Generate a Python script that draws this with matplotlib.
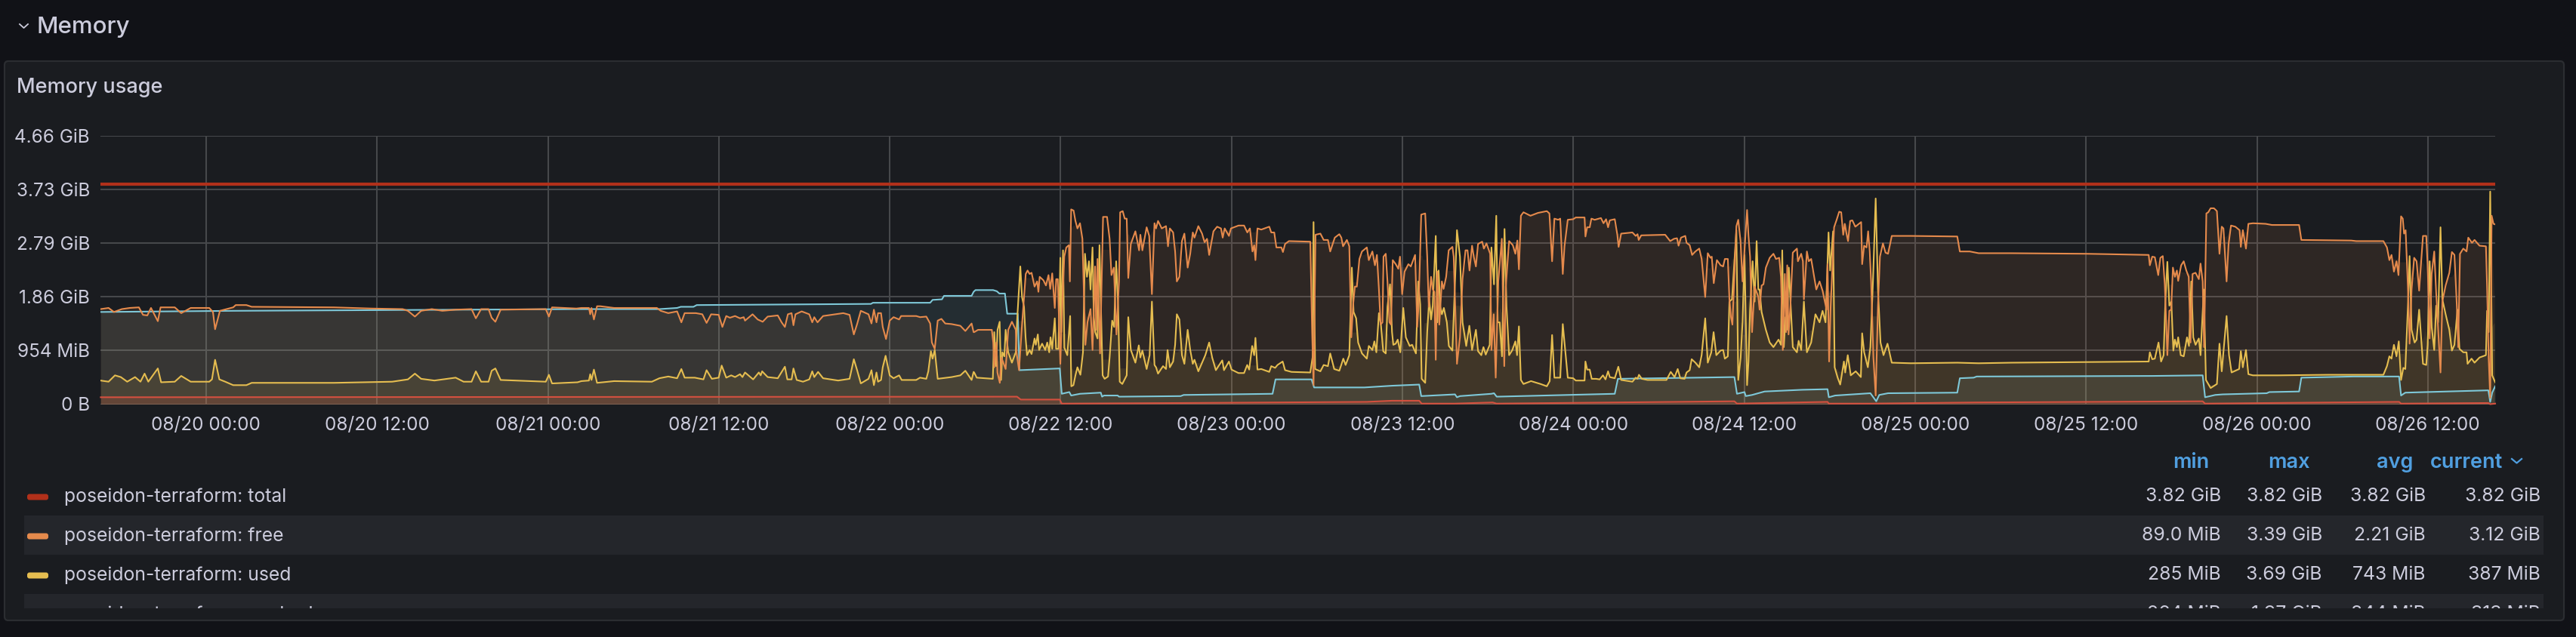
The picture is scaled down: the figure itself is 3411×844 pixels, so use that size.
import matplotlib
matplotlib.use("Agg")
import numpy as np
import pandas as pd
import matplotlib.pyplot as plt
from matplotlib.patches import FancyBboxPatch, Rectangle

# hours since 08/20 00:00, values in GiB
t_start, t_end = -7.42, 160.73

free_hours = [
    -7.40, -6.85, -6.47, -5.92, -5.36, -4.72, -4.43, -4.13, -3.87, -3.39,
    -3.20, -2.20, -1.75, -1.08, 0.22, 0.48, 0.63, 0.97, 1.90, 2.08,
    2.83, 3.20, 8.97, 11.57, 13.80, 14.17, 14.66, 15.10, 15.85, 16.59,
    17.52, 18.64, 18.94, 19.31, 19.83, 20.05, 20.31, 20.68, 23.85, 24.07,
    24.29, 26.00,
    26.35, 26.88, 26.97, 27.06, 27.23, 27.45, 27.68, 28.65, 31.65, 31.92,
    32.45, 33.07, 33.37, 33.60, 34.39, 34.84, 35.14, 35.46, 35.99, 36.25,
    36.52, 36.78, 37.14, 37.49, 37.75, 37.84, 38.37, 38.73, 39.08, 39.43,
    40.14, 40.41, 40.64, 40.85, 41.11, 41.24, 41.38, 41.82, 42.35, 42.56,
    42.70, 42.93, 43.32, 44.74, 45.18, 45.48, 45.71, 45.97, 46.51, 46.72,
    46.89, 47.07, 47.18, 47.39, 47.51, 47.74, 48.00, 48.27, 48.66, 48.80,
    49.86, 50.13, 50.57, 50.84, 50.96, 51.16, 51.37, 51.63, 51.90, 52.34,
    52.96, 53.31, 53.75, 53.89,
    53.93, 54.20, 55.17, 55.27, 55.34, 55.49, 55.56, 55.73, 55.84, 56.14,
    56.32, 56.58, 56.85, 56.90, 57.08, 57.29, 57.55, 57.68, 57.82, 57.96,
    58.17, 58.35, 58.44, 58.53, 58.79, 58.97, 59.15, 59.27, 59.41, 59.59,
    59.69, 59.80, 59.98, 60.12, 60.26, 60.40, 60.58, 60.65, 60.74, 60.91,
    61.04, 61.18, 61.36, 61.53, 61.67, 61.74, 61.89, 62.10, 62.24, 62.42,
    62.50, 62.59, 62.77, 62.98, 63.26, 63.44, 63.57, 63.74, 63.92, 64.10,
    64.18, 64.36, 64.50, 64.64, 64.75, 64.93, 65.25, 65.51, 65.60, 65.74,
    66.04, 66.22, 66.41, 66.59, 66.70, 66.84, 67.10, 67.40, 67.54, 67.67,
    67.90, 68.04, 68.16, 68.34, 68.52, 68.69, 68.92, 69.10, 69.28, 69.40,
    69.67, 69.93, 70.11, 70.28, 70.43, 70.73, 70.99, 71.26, 71.38, 71.52,
    71.82, 71.96, 72.49, 72.88, 73.11, 73.29, 73.47, 73.59, 73.68, 73.82,
    74.09, 74.65, 74.79, 75.00, 75.15, 75.50, 75.61, 75.76, 76.03, 77.53,
    77.66, 77.76, 77.90, 78.24, 78.47, 78.77, 78.93, 79.25, 79.57, 79.71,
    79.83, 80.10, 80.27, 80.41, 80.54, 80.66, 80.80, 80.98, 81.16,
    81.50, 81.64, 81.89, 82.07, 82.21, 82.35, 82.47, 82.60, 82.67, 82.83,
    82.95, 83.09, 83.20, 83.32, 83.53, 83.71, 83.83, 83.98, 84.15, 84.42,
    84.59, 84.89, 85.04, 85.14, 85.32, 85.60, 85.74, 85.85, 86.01, 86.13,
    86.24, 86.34, 86.45, 86.59, 86.77, 86.89, 87.07, 87.25, 87.51, 87.60,
    87.83, 88.04, 88.22, 88.43, 88.57, 88.71, 88.89, 89.01, 89.16, 89.31,
    89.60, 89.72, 89.90, 90.16, 90.25, 90.41, 90.55, 90.73, 90.98, 91.15,
    91.26, 91.49, 91.75, 91.93, 92.07, 92.18, 92.32, 92.50, 92.99, 93.52,
    94.14, 94.32, 94.51, 94.67, 94.94, 95.08, 95.26, 95.38, 95.61, 95.99,
    96.17, 96.79, 96.85, 96.97, 97.15, 97.27, 97.50, 97.94, 98.12, 98.30,
    98.44, 98.56, 98.91, 99.09, 99.18, 99.36, 100.15, 100.38, 100.51, 100.59,
    100.77, 102.45, 102.80, 103.07, 103.28, 103.39, 103.56, 103.86, 103.95, 104.17,
    104.34, 104.57, 104.84, 105.01, 105.26, 105.44, 105.63, 105.72, 105.86, 106.08,
    106.34, 106.52, 106.64, 106.85, 106.96, 107.07, 107.17, 107.45, 107.58, 107.74,
    107.88, 108.20, 108.30, 108.41, 108.55, 108.73, 108.99,
    109.08, 109.22, 109.35, 109.52, 109.79, 110.05, 110.23, 110.46, 110.58, 110.71,
    110.85, 110.94, 111.02, 111.11, 111.24, 111.41, 111.70, 111.77, 112.00, 112.12,
    112.19, 112.40, 112.53, 112.70, 113.06, 113.29, 113.50, 113.78, 113.85, 113.96,
    114.07, 114.31, 114.49, 114.67, 114.81, 114.95, 115.06, 115.18, 115.29, 115.44,
    115.59, 115.80, 116.06, 116.21, 116.28, 116.42, 116.59, 116.70, 116.81, 116.91,
    117.07, 117.23, 117.39, 117.53, 117.74, 117.92, 118.10, 118.36, 119.69, 122.96,
    123.14, 123.84, 124.46, 126.76, 132.06, 136.40, 136.48, 136.63,
    136.65, 136.83, 137.07, 137.22, 137.39, 137.53, 137.71, 137.85, 137.98, 138.10,
    138.24, 138.38, 138.47, 138.68, 138.86, 139.04, 139.21, 139.34, 139.48, 139.69,
    139.92, 140.04, 140.19, 140.29, 140.45, 140.58, 140.75, 140.98, 141.19, 141.37,
    141.53, 141.65, 141.87, 142.01, 142.18, 142.48, 142.78, 142.87, 143.01, 143.23,
    143.40, 143.72, 144.61, 145.05, 146.96, 147.12, 150.62, 150.97, 152.88, 153.13,
    153.30, 153.45, 153.62, 153.80, 153.94, 154.12, 154.24, 154.33, 154.44, 154.60,
    154.72, 154.86, 155.04, 155.21, 155.39, 155.66, 155.89, 155.99, 156.13, 156.27,
    156.45, 156.59, 156.89, 157.02, 157.25, 157.51, 157.69, 157.87, 158.04, 158.13,
    158.26, 158.49, 158.72, 158.84, 159.10, 159.28, 159.63, 160.08, 160.16, 160.27,
    160.38, 160.48, 160.61, 160.73,
]
free_gib = [
    1.65, 1.67, 1.60, 1.65, 1.67, 1.68, 1.55, 1.54, 1.67, 1.44,
    1.68, 1.68, 1.58, 1.67, 1.67, 1.60, 1.30, 1.62, 1.68, 1.72,
    1.72, 1.69, 1.68, 1.66, 1.65, 1.62, 1.52, 1.62, 1.65, 1.62,
    1.64, 1.65, 1.49, 1.65, 1.65, 1.50, 1.43, 1.64, 1.65, 1.52,
    1.68, 1.66,
    1.67, 1.67, 1.56, 1.67, 1.47, 1.70, 1.70, 1.67, 1.67, 1.62,
    1.58, 1.61, 1.42, 1.58, 1.58, 1.56, 1.41, 1.56, 1.55, 1.34,
    1.53, 1.50, 1.53, 1.49, 1.51, 1.45, 1.56, 1.47, 1.43, 1.52,
    1.54, 1.42, 1.34, 1.56, 1.58, 1.37, 1.56, 1.61, 1.56, 1.42,
    1.51, 1.42, 1.53, 1.58, 1.55, 1.21, 1.39, 1.62, 1.56, 1.40,
    1.64, 1.42, 1.58, 1.58, 1.34, 1.13, 1.45, 1.51, 1.47, 1.53,
    1.53, 1.51, 1.52, 1.40, 1.07, 0.96, 1.45, 1.48, 1.40, 1.39,
    1.36, 1.27, 1.40, 1.25,
    1.25, 1.29, 1.29, 1.07, 0.64, 1.07, 0.55, 0.37, 0.81, 0.61,
    1.29, 1.43, 1.29, 0.90, 0.59, 1.38, 2.26, 2.32, 2.26, 2.28,
    2.04, 2.13, 1.95, 2.21, 2.15, 2.06, 2.24, 2.00, 2.27, 1.67,
    2.17, 2.17, 0.70, 1.78, 2.56, 2.72, 2.76, 2.13, 3.38, 3.36,
    3.18, 3.05, 3.14, 2.87, 1.60, 1.03, 1.43, 1.65, 0.94, 2.39,
    1.29, 2.52, 0.88, 3.25, 3.25, 2.87, 2.24, 2.37, 1.21, 2.13,
    3.33, 3.35, 3.22, 3.22, 2.19, 2.78, 3.00, 2.67, 2.94, 2.67,
    3.07, 2.92, 1.91, 3.14, 3.05, 3.18, 3.05, 3.09, 2.74, 3.05,
    2.98, 2.65, 2.13, 2.21, 2.83, 2.96, 2.37, 2.61, 2.98, 2.89,
    3.09, 2.96, 2.81, 2.87, 2.59, 3.00, 3.08, 3.05, 2.89, 3.05,
    2.92, 3.05, 3.10, 3.10, 2.98, 3.05, 2.65, 2.76, 2.50, 3.05,
    3.03, 3.08, 2.98, 2.98, 2.72, 2.72, 2.64, 2.78, 2.83, 2.82,
    1.25, 0.33, 2.94, 2.96, 2.85, 2.85, 2.65, 2.89, 2.95, 2.89,
    2.74, 2.85, 2.74, 1.16, 1.73, 2.04, 2.04, 2.52, 2.65,
    2.72, 2.50, 2.65, 2.41, 2.59, 1.99, 1.38, 1.42, 2.56, 2.61,
    2.13, 1.42, 1.38, 2.50, 2.43, 2.35, 2.56, 1.91, 2.30, 2.43,
    2.39, 2.59, 1.34, 1.73, 3.29, 3.31, 2.56, 1.69, 2.21, 1.99,
    1.95, 0.77, 2.30, 1.38, 2.13, 2.00, 2.21, 2.67, 2.73, 2.56,
    0.70, 1.16, 2.17, 2.67, 2.67, 2.32, 2.75, 2.56, 2.39, 2.78,
    2.82, 2.70, 2.79, 2.61, 0.94, 1.56, 0.46, 2.13, 2.87, 0.66,
    2.04, 2.83, 2.76, 2.61, 2.84, 2.34, 3.27, 3.33, 3.27, 3.32,
    3.35, 3.31, 2.48, 3.22, 3.20, 3.22, 2.26, 2.74, 3.20, 3.21,
    3.24, 3.24, 2.91, 3.07, 3.07, 3.22, 3.20, 3.23, 3.14, 3.21,
    3.07, 3.19, 3.21, 2.94, 2.73, 2.96, 2.98, 2.92, 2.95, 2.85,
    2.93, 2.94, 2.83, 2.87, 2.88, 2.75, 2.89, 2.92, 2.80, 2.76,
    2.59, 2.65, 2.70, 2.52, 1.86, 2.62, 2.54, 2.56, 2.10, 2.50,
    2.41, 2.39, 2.52, 2.52, 1.82, 1.51, 1.38, 3.09, 3.20, 2.83,
    2.13, 3.37, 2.92, 2.56, 1.25, 2.04, 1.86,
    1.64, 2.06, 2.08, 2.37, 2.54, 2.61, 2.52, 2.54, 2.21, 0.94,
    2.26, 1.25, 2.41, 1.21, 1.69, 2.63, 2.70, 2.48, 2.61, 2.48,
    1.82, 2.65, 2.48, 2.52, 1.99, 2.13, 1.97, 1.64, 2.43, 0.74,
    1.69, 3.07, 3.20, 3.34, 3.33, 2.94, 3.13, 2.96, 2.83, 3.18,
    3.19, 3.08, 3.13, 3.16, 2.43, 2.75, 2.72, 3.00, 2.65, 2.13,
    0.81, 0.15, 1.69, 2.56, 2.79, 2.63, 2.61, 2.92, 2.92, 2.91,
    2.65, 2.65, 2.62, 2.62, 2.61, 2.59, 2.41, 2.54,
    2.56, 2.55, 2.24, 2.54, 2.57, 2.08, 0.85, 1.62, 1.64, 2.37,
    2.21, 2.32, 2.14, 2.41, 2.48, 2.32, 2.21, 1.07, 2.26, 2.28,
    2.17, 2.44, 2.13, 0.99, 3.31, 3.33, 3.40, 3.40, 3.35, 2.61,
    3.08, 3.05, 2.13, 2.78, 3.10, 3.08, 3.02, 2.73, 3.02, 2.70,
    3.13, 3.14, 3.13, 3.11, 3.11, 2.85, 2.84, 2.83, 2.83, 2.72,
    2.50, 2.59, 2.30, 2.48, 2.24, 3.26, 3.22, 2.96, 3.02, 2.04,
    1.05, 1.99, 2.54, 2.48, 1.97, 2.92, 2.92, 2.39, 1.14, 2.26,
    2.65, 1.91, 0.55, 1.78, 2.06, 2.28, 2.64, 2.59, 1.69, 0.99,
    2.61, 2.70, 2.65, 2.89, 2.80, 2.85, 2.75, 2.74, 2.04, 0.81,
    0.11, 3.27, 3.13, 3.12,
]

used_hours = [
    -7.40, -6.85, -6.40, -5.99, -5.54, -4.99, -4.61, -4.32, -4.06, -3.39,
    -3.16, -2.20, -1.75, -1.08, 0.22, 0.41, 0.63, 0.93, 1.34, 1.90,
    2.83, 3.20, 8.97, 13.06, 14.17, 14.66, 15.10, 16.03, 17.52, 18.08,
    18.64, 18.94, 19.31, 19.83, 20.05, 20.31, 20.68, 23.85, 24.07, 24.29,
    26.08,
    26.35, 26.88, 26.97, 27.06, 27.23, 27.45, 28.65, 31.30, 31.83, 32.45,
    33.07, 33.37, 33.60, 34.31, 34.92, 35.14, 35.51, 35.99, 36.20, 36.52,
    36.87, 37.14, 37.49, 37.66, 37.84, 38.41, 38.81, 38.94, 39.04, 39.43,
    40.14, 40.64, 40.81, 41.11, 41.24, 41.47, 41.91, 42.35, 42.56, 42.70,
    42.97, 43.32, 44.38, 45.18, 45.48, 45.71, 45.97, 46.51, 46.72, 46.89,
    47.07, 47.18, 47.39, 47.51, 47.71, 48.00, 48.27, 48.66, 48.84, 49.86,
    50.13, 50.57, 50.71, 50.89, 51.01, 51.16, 51.37, 52.34, 52.96, 53.31,
    53.75, 53.89,
    53.93, 54.11, 55.17, 55.24, 55.34, 55.47, 55.57, 55.72, 55.82, 55.91,
    56.05, 56.14, 56.32, 56.58, 56.85, 56.94, 57.17, 57.29, 57.43, 57.54,
    57.64, 57.82, 57.96, 58.17, 58.26, 58.40, 58.49, 58.70, 58.92, 59.06,
    59.20, 59.29, 59.41, 59.59, 59.68, 59.85, 59.98, 60.05, 60.17, 60.26,
    60.47, 60.67, 60.75, 60.90, 61.04, 61.18, 61.39, 61.57, 61.71, 61.85,
    61.99, 62.10, 62.24, 62.33, 62.43, 62.59, 62.73, 62.82, 62.95, 63.09,
    63.33, 63.44, 63.62, 63.76, 63.90, 64.04, 64.15, 64.33, 64.64, 64.75,
    64.93, 65.25, 65.49, 65.60, 65.74, 66.04, 66.25, 66.41, 66.59, 66.70,
    66.84, 67.19, 67.40, 67.51, 67.67, 67.90, 68.04, 68.16, 68.34, 68.52,
    68.69, 68.92, 69.10, 69.28, 69.40, 69.67, 69.93, 70.16, 70.43, 70.64,
    70.90, 71.35, 71.47, 71.82, 72.00, 72.49, 72.88, 73.10, 73.24, 73.45,
    73.59, 73.68, 73.82, 74.09, 74.65, 74.79, 75.06, 75.23, 75.59, 75.76,
    76.21, 77.53, 77.69, 77.76, 77.87, 78.24, 78.47, 78.77, 78.93, 79.21,
    79.57, 79.85, 80.01, 80.27, 80.45, 80.57, 80.75, 80.89, 81.16,
    81.50, 81.64, 81.89, 82.03, 82.17, 82.35, 82.49, 82.65, 82.83, 82.95,
    83.13, 83.27, 83.36, 83.53, 83.67, 83.85, 84.06, 84.24, 84.51, 84.68,
    84.95, 85.11, 85.25, 85.35, 85.60, 85.74, 85.88, 86.01, 86.13, 86.34,
    86.45, 86.54, 86.66, 86.77, 86.91, 87.12, 87.26, 87.51, 87.83, 88.04,
    88.22, 88.48, 88.70, 88.89, 89.16, 89.31, 89.54, 89.69, 89.85, 90.13,
    90.25, 90.43, 90.59, 90.69, 90.83, 90.99, 91.17, 91.31, 91.49, 91.72,
    91.93, 92.05, 92.18, 92.32, 92.50, 93.03, 93.70, 94.14, 94.34, 94.51,
    94.67, 95.08, 95.26, 95.61, 95.99, 96.17, 96.79, 96.85, 96.97, 97.15,
    97.29, 97.59, 97.85, 98.08, 98.26, 98.44, 98.56, 98.91, 99.16, 99.36,
    100.15, 100.38, 100.51, 100.61, 100.81, 101.21, 102.54, 102.84, 103.11, 103.33,
    103.51, 103.81, 103.95, 104.17, 104.31, 104.57, 104.84, 105.01, 105.26, 105.44,
    105.69, 105.85, 106.04, 106.34, 106.52, 106.64, 106.85, 106.96, 107.14, 107.45,
    107.58, 107.75, 107.88, 108.02, 108.20, 108.30, 108.41, 108.59, 108.73, 108.87,
    108.99,
    109.08, 109.22, 109.52, 109.79, 110.05, 110.41, 110.58, 110.67, 110.78, 110.90,
    110.99, 111.13, 111.24, 111.41, 111.70, 111.82, 112.00, 112.19, 112.40, 112.70,
    113.00, 113.29, 113.50, 113.71, 113.92, 114.03, 114.24, 114.35, 114.56, 114.74,
    115.00, 115.09, 115.27, 115.48, 115.83, 116.19, 116.28, 116.42, 116.68, 116.86,
    117.04, 117.23, 117.39, 117.57, 117.78, 118.06, 118.36, 119.69, 122.96, 124.46,
    126.76, 136.40, 136.48, 136.63,
    136.65, 136.83, 137.09, 137.27, 137.45, 137.57, 137.71, 137.85, 137.99, 138.13,
    138.24, 138.38, 138.47, 138.65, 138.86, 139.09, 139.23, 139.39, 139.53, 139.69,
    139.92, 140.04, 140.27, 140.42, 140.75, 141.19, 141.37, 141.53, 141.87, 142.04,
    142.22, 142.75, 142.87, 143.01, 143.23, 143.40, 143.72, 145.49, 149.03, 152.88,
    153.13, 153.30, 153.45, 153.62, 153.80, 153.96, 154.12, 154.28, 154.42, 154.60,
    154.72, 154.86, 155.07, 155.21, 155.39, 155.66, 155.89, 155.99, 156.13, 156.27,
    156.45, 156.59, 156.72, 156.89, 157.02, 157.25, 157.51, 157.69, 157.87, 158.08,
    158.22, 158.49, 158.72, 158.79, 159.07, 159.28, 159.63, 160.08, 160.16, 160.27,
    160.38, 160.52, 160.73,
]
used_gib = [
    0.41, 0.39, 0.50, 0.47, 0.39, 0.47, 0.39, 0.53, 0.39, 0.62,
    0.38, 0.39, 0.49, 0.39, 0.39, 0.43, 0.77, 0.43, 0.39, 0.33,
    0.33, 0.37, 0.37, 0.39, 0.43, 0.53, 0.44, 0.41, 0.46, 0.39,
    0.39, 0.57, 0.39, 0.39, 0.58, 0.62, 0.42, 0.39, 0.51, 0.36,
    0.38,
    0.40, 0.41, 0.52, 0.42, 0.60, 0.37, 0.40, 0.39, 0.45, 0.48,
    0.45, 0.61, 0.46, 0.46, 0.43, 0.59, 0.44, 0.46, 0.67, 0.46,
    0.50, 0.47, 0.52, 0.47, 0.55, 0.43, 0.55, 0.50, 0.57, 0.47,
    0.45, 0.65, 0.43, 0.43, 0.62, 0.42, 0.39, 0.43, 0.57, 0.47,
    0.56, 0.45, 0.41, 0.44, 0.78, 0.59, 0.36, 0.44, 0.59, 0.33,
    0.55, 0.39, 0.42, 0.64, 0.84, 0.50, 0.45, 0.50, 0.42, 0.42,
    0.46, 0.44, 0.57, 0.92, 0.79, 0.94, 0.44, 0.47, 0.50, 0.58,
    0.42, 0.56,
    0.55, 0.46, 0.44, 0.44, 1.25, 0.66, 1.29, 1.43, 0.42, 0.90,
    0.83, 1.29, 0.90, 0.72, 0.90, 1.43, 2.39, 1.86, 1.69, 1.16,
    0.85, 0.94, 0.87, 1.14, 1.03, 1.21, 0.94, 1.05, 0.94, 1.07,
    0.90, 1.16, 0.96, 1.49, 0.96, 0.96, 2.54, 1.25, 2.67, 0.98,
    0.85, 1.53, 0.31, 0.33, 0.50, 0.64, 0.51, 0.90, 2.61, 2.21,
    2.48, 1.99, 2.72, 1.51, 1.25, 1.14, 2.76, 1.78, 0.50, 0.44,
    0.48, 0.81, 1.45, 1.34, 2.48, 1.69, 0.39, 0.35, 0.50, 1.51,
    0.94, 0.72, 1.02, 0.81, 0.93, 0.61, 0.85, 1.78, 0.68, 0.64,
    0.53, 0.66, 0.61, 0.94, 0.64, 0.74, 1.03, 1.56, 1.47, 0.85,
    0.70, 1.29, 0.94, 0.70, 0.77, 0.57, 0.72, 0.85, 1.07, 0.81,
    0.59, 0.76, 0.59, 0.74, 0.60, 0.54, 0.54, 0.68, 0.60, 1.01,
    0.85, 1.15, 0.60, 0.61, 0.56, 0.66, 0.63, 0.68, 0.74, 0.59,
    0.56, 0.55, 0.81, 3.16, 0.61, 0.57, 0.68, 0.66, 0.88, 0.61,
    0.58, 0.79, 0.68, 0.85, 2.37, 1.60, 1.49, 1.07, 0.88,
    0.79, 1.01, 0.94, 1.09, 0.90, 1.58, 1.38, 0.92, 0.88, 1.69,
    2.08, 1.25, 1.03, 1.05, 1.12, 0.90, 1.67, 1.16, 1.01, 1.03,
    0.88, 2.13, 1.73, 0.44, 0.37, 1.25, 1.82, 1.47, 1.71, 2.92,
    1.42, 2.32, 1.69, 1.56, 1.67, 1.42, 1.01, 0.93, 3.02, 2.56,
    1.42, 1.01, 1.36, 0.94, 1.29, 0.92, 0.85, 0.99, 0.86, 1.03,
    2.72, 2.08, 3.27, 1.42, 1.42, 0.83, 3.04, 1.69, 0.85, 0.94,
    1.09, 0.85, 1.35, 0.42, 0.35, 0.40, 0.35, 0.31, 0.40, 1.20,
    0.46, 0.46, 1.39, 0.46, 0.45, 0.41, 0.41, 0.74, 0.60, 0.60,
    0.44, 0.44, 0.43, 0.50, 0.43, 0.57, 0.47, 0.45, 0.65, 0.42,
    0.39, 0.46, 0.44, 0.51, 0.44, 0.42, 0.42, 0.56, 0.47, 0.61,
    0.45, 0.44, 0.55, 0.59, 0.78, 0.72, 0.64, 0.85, 1.49, 0.72,
    0.90, 1.25, 0.85, 0.93, 0.94, 0.79, 0.83, 1.78, 1.82, 3.02,
    0.42, 0.81, 1.42, 2.59, 0.33, 0.74, 1.64, 2.48, 1.78, 2.83,
    1.99,
    1.99, 1.60, 1.29, 1.07, 0.99, 1.12, 1.03, 2.67, 0.99, 1.51,
    1.29, 2.37, 1.82, 0.99, 0.90, 1.10, 0.94, 1.78, 0.90, 1.07,
    1.56, 1.42, 1.62, 1.42, 2.98, 2.32, 3.00, 0.64, 0.46, 0.34,
    0.74, 0.55, 0.85, 0.50, 0.57, 0.47, 1.23, 0.90, 0.64, 0.99,
    2.13, 3.57, 1.99, 1.07, 0.85, 1.05, 0.72, 0.71, 0.72, 0.71,
    0.72, 0.74, 0.90, 0.79,
    0.78, 0.79, 1.07, 0.74, 0.85, 1.78, 2.47, 1.71, 1.78, 0.93,
    1.12, 0.99, 1.16, 0.85, 0.83, 1.16, 1.01, 2.13, 1.16, 1.03,
    1.14, 0.85, 1.99, 0.42, 0.28, 0.35, 1.05, 0.57, 1.53, 0.85,
    0.55, 0.61, 0.92, 0.64, 0.94, 0.52, 0.50, 0.50, 0.51, 0.51,
    0.66, 0.83, 0.79, 1.03, 0.83, 1.09, 0.42, 0.63, 0.61, 1.69,
    2.57, 1.29, 1.07, 1.12, 1.64, 0.70, 0.68, 1.03, 2.48, 1.34,
    0.94, 1.71, 1.42, 3.07, 1.82, 1.56, 1.29, 0.93, 1.03, 1.64,
    0.96, 0.90, 0.90, 0.70, 0.79, 0.72, 0.81, 0.85, 1.62, 1.25,
    3.69, 0.50, 0.38,
]

cached_hours = [
    -7.40, 1.90, 26.35, 31.83, 33.07, 33.33, 34.22, 34.45, 46.68, 46.82,
    50.84, 51.01, 51.67, 51.81, 53.75, 53.89, 54.02, 55.26, 55.52, 55.70,
    56.09, 56.25, 56.99, 57.11, 59.94, 60.08, 60.61, 60.74, 61.36, 62.82,
    62.91, 63.04, 64.01, 64.10, 68.43, 68.64, 74.88, 75.09, 77.62, 77.80,
    81.33, 83.27, 85.18, 85.32, 87.69, 87.83, 88.04, 90.25, 90.43, 90.62,
    98.91, 99.13, 107.31, 107.49, 108.02, 108.11, 108.55, 108.99, 109.43, 112.09,
    113.85, 113.94, 114.38, 116.86, 117.27, 117.48, 118.10, 122.96, 123.14, 124.11,
    124.32, 136.66, 140.19, 140.36, 141.07, 141.60, 144.69, 144.87, 146.96, 147.12,
    150.79, 153.98, 154.12, 154.42, 160.25, 160.38, 160.52, 160.73,
]
cached_gib = [
    1.60, 1.62, 1.65, 1.65, 1.67, 1.69, 1.69, 1.72, 1.74, 1.76,
    1.76, 1.81, 1.82, 1.88, 1.88, 1.95, 1.98, 1.98, 1.96, 1.92,
    1.92, 1.57, 1.57, 0.59, 0.62, 0.18, 0.21, 0.15, 0.18, 0.20,
    0.13, 0.15, 0.15, 0.13, 0.14, 0.16, 0.18, 0.43, 0.43, 0.29,
    0.29, 0.32, 0.34, 0.14, 0.17, 0.12, 0.14, 0.18, 0.19, 0.13,
    0.18, 0.44, 0.47, 0.18, 0.21, 0.14, 0.16, 0.19, 0.22, 0.25,
    0.26, 0.12, 0.15, 0.19, 0.05, 0.16, 0.19, 0.20, 0.45, 0.46,
    0.48, 0.49, 0.50, 0.12, 0.16, 0.17, 0.19, 0.21, 0.22, 0.46,
    0.48, 0.48, 0.15, 0.20, 0.24, 0.04, 0.20, 0.31,
]

buffers_hours = [
    -7.40, 56.94, 57.20, 59.94, 60.08, 68.60, 81.50, 83.27, 85.18, 85.35,
    87.69, 90.34, 90.60, 107.31, 107.49, 113.85, 113.94, 116.86, 124.30, 140.19,
    140.36, 153.98, 154.12, 160.25, 160.38, 160.73,
]
buffers_gib = [
    0.12, 0.13, 0.08, 0.08, 0.01, 0.02, 0.04, 0.06, 0.06, 0.01,
    0.01, 0.03, 0.01, 0.05, 0.01, 0.04, 0.01, 0.01, 0.03, 0.05,
    0.01, 0.04, 0.01, 0.02, 0.00, 0.01,
]

total_hours = [t_start, t_end]
total_gib = [3.82, 3.82]

y_ticks = [0, 0.9313, 1.8626, 2.794, 3.7253, 4.6566]
y_labels = ["0 B", "954 MiB", "1.86 GiB", "2.79 GiB", "3.73 GiB", "4.66 GiB"]
x_ticks = [0, 12, 24, 36, 48, 60, 72, 84, 96, 108, 120, 132, 144, 156]
x_labels = ["08/20 00:00", "08/20 12:00", "08/21 00:00", "08/21 12:00",
            "08/22 00:00", "08/22 12:00", "08/23 00:00", "08/23 12:00",
            "08/24 00:00", "08/24 12:00", "08/25 00:00", "08/25 12:00",
            "08/26 00:00", "08/26 12:00"]

legend_names = ["poseidon-terraform: total", "poseidon-terraform: free",
                "poseidon-terraform: used", "poseidon-terraform: cached"]
legend_min = ["3.82 GiB", "89.0 MiB", "285 MiB", "264 MiB"]
legend_max = ["3.82 GiB", "3.39 GiB", "3.69 GiB", "1.97 GiB"]
legend_avg = ["3.82 GiB", "2.21 GiB", "743 MiB", "844 MiB"]
legend_cur = ["3.82 GiB", "3.12 GiB", "387 MiB", "313 MiB"]

RED = "#b1301a"
ORANGE = "#e58a4c"
YELLOW = "#e5bd50"
BLUE = "#7ec8d8"
LOWRED = "#d4503f"
TEXT = "#ccccdc"
HEAD = "#509fe0"
GRID = "#46484b"


def fill_level(hours, values):
    # the tinted areas in the panel ignore the fast swings of the line
    grid = np.arange(t_start, t_end, 0.05)
    s = pd.Series(np.interp(grid, hours, values))
    level = s.rolling(21, center=True, min_periods=1).median().to_numpy()
    level[grid < 54] = s.to_numpy()[grid < 54]
    return grid, level


plt.rcParams["font.family"] = ["Inter", "DejaVu Sans"]
W, H = 3412, 844
fig = plt.figure(figsize=(W / 100, H / 100), dpi=100, facecolor="#111217")

# page furniture in pixel coordinates
bg = fig.add_axes([0, 0, 1, 1], zorder=0)
bg.set_xlim(0, W)
bg.set_ylim(H, 0)
bg.axis("off")
bg.add_patch(FancyBboxPatch((6, 81), 3389, 741, boxstyle="round,pad=0,rounding_size=5",
                            fc="#1a1c20", ec="#2b2d31", lw=1.6))
bg.add_patch(Rectangle((32, 683), 3336, 52, fc="#24262b", ec="none"))
bg.add_patch(Rectangle((32, 787), 3336, 19, fc="#24262b", ec="none"))
bg.plot([26, 31.5, 37], [32, 37, 32], color=TEXT, lw=1.3)
bg.text(49, 36, "Memory", color=TEXT, fontsize=22.5, fontweight="medium", va="center")
bg.text(22, 116, "Memory usage", color=TEXT, fontsize=19.5, fontweight="medium", va="center")

# legend table
for x, s in [(2925, "min"), (3059, "max"), (3195, "avg"), (3314, "current")]:
    bg.text(x, 613, s, color=HEAD, fontsize=19.5, fontweight="semibold", ha="right", va="center")
bg.plot([3326, 3332.5, 3339], [608, 613.5, 608], color=HEAD, lw=1.6)

clip = Rectangle((0, 0), W, 806, transform=bg.transData)
swatches = [RED, ORANGE, YELLOW]
for i, name in enumerate(legend_names):
    yc = 658 + i * 52
    if i < len(swatches):
        bg.add_patch(FancyBboxPatch((36, yc - 3.5), 28, 8, boxstyle="round,pad=0,rounding_size=3",
                                    fc=swatches[i], ec="none"))
    row = [(85, name, "left"), (2941, legend_min[i], "right"), (3075, legend_max[i], "right"),
           (3212, legend_avg[i], "right"), (3364, legend_cur[i], "right")]
    for x, s, ha in row:
        t = bg.text(x, yc, s, color=TEXT, fontsize=17.8, ha=ha, va="center")
        t.set_clip_path(clip)
        t.set_clip_on(True)

# graph
ax = fig.add_axes([133 / W, 1 - 535.5 / H, (3304 - 133) / W, (535.5 - 180) / H], zorder=1)
ax.patch.set_alpha(0)
ax.set_xlim(t_start, t_end)
ax.set_ylim(0, 4.6566)
for s in ax.spines.values():
    s.set_visible(False)
ax.set_yticks(y_ticks, y_labels)
ax.set_xticks(x_ticks, x_labels)
ax.tick_params(axis="both", length=0, colors=TEXT, labelsize=17.5)
ax.tick_params(axis="y", pad=10)
ax.tick_params(axis="x", pad=12)
ax.grid(True, color=GRID, lw=1.5, zorder=0)
ax.set_axisbelow(True)

ax.fill_between(cached_hours, cached_gib, color=BLUE, alpha=0.1, lw=0)
ax.fill_between(*fill_level(free_hours, free_gib), color=ORANGE, alpha=0.1, lw=0)
ax.fill_between(*fill_level(used_hours, used_gib), color=YELLOW, alpha=0.1, lw=0)
ax.fill_between(buffers_hours, buffers_gib, color=LOWRED, alpha=0.2, lw=0)

ax.plot(total_hours, total_gib, color=RED, lw=3, solid_capstyle="butt")
ax.plot(cached_hours, cached_gib, color=BLUE, lw=1.5)
ax.plot(buffers_hours, buffers_gib, color=LOWRED, lw=1.5, clip_on=False)
ax.plot(used_hours, used_gib, color=YELLOW, lw=1.5)
ax.plot(free_hours, free_gib, color=ORANGE, lw=1.5)

fig.savefig("out.png", dpi=100, facecolor=fig.get_facecolor())
